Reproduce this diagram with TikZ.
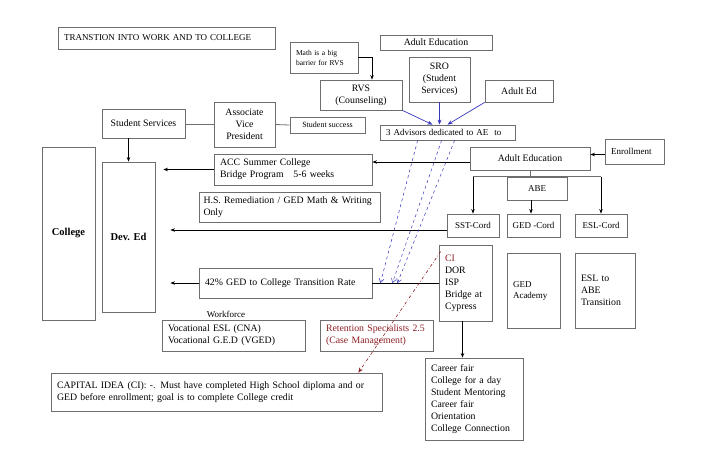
\documentclass[tikz,border=0pt]{standalone}
\usepackage{fontspec}
\setmainfont{Liberation Serif}
\usetikzlibrary{arrows.meta, calc, positioning}
\definecolor{retred}{RGB}{140,30,35}
\definecolor{advblue}{RGB}{55,55,190}
\definecolor{boxgray}{RGB}{110,110,110}

\begin{document}
\begin{tikzpicture}[x=1pt, y=-1pt,
    every node/.style={font=\fontsize{9.8}{12}\selectfont},
    box/.style={draw=boxgray, line width=0.8pt, inner xsep=2pt, inner ysep=1pt, align=center},
    lbox/.style={box, align=left, inner xsep=6pt},
    fsmall/.style={font=\fontsize{9}{11}\selectfont},
    ftiny/.style={font=\fontsize{7.5}{10}\selectfont},
    fbold/.style={font=\fontsize{10.5}{12}\selectfont\bfseries},
    line/.style={draw=boxgray, line width=0.8pt},
    arr/.style={-{Stealth[length=4.5pt, width=3.5pt]}, line width=0.7pt},
    advarr/.style={-{Stealth[length=5pt, width=4pt]}, draw=advblue, line width=0.7pt},
    advdash/.style={-{Straight Barb[length=4pt, width=5pt]}, draw=advblue, dashed, line width=0.5pt},
    retarr/.style={-{Stealth[length=5pt, width=4pt]}, draw=retred, line width=0.6pt}]
  \useasboundingbox (0,0) rectangle (720,450);

  % Heading and top boxes
  \node[lbox, fsmall, text width=205pt, minimum height=22pt] (title) at (166.5,38) {TRANSTION INTO WORK AND TO COLLEGE};
  \node[lbox, ftiny, text width=56pt, minimum height=31pt] (math) at (324,57.5) {Math is a big\\barrier for RVS};
  \node[box, minimum width=112pt, minimum height=15pt] (aetop) at (436,42.5) {Adult Education};
  \node[box, minimum width=61pt, minimum height=45pt] (sro) at (439.5,79.5) {SRO\\(Student\\Services)};
  \node[box, minimum width=68pt, minimum height=22pt] (adulted) at (519,91) {Adult Ed};
  \node[box, minimum width=82pt, minimum height=30pt] (rvs) at (361,95) {RVS\\(Counseling)};
  \node[box, minimum width=83pt, minimum height=29pt] (stuserv) at (143.5,123.5) {Student Services};
  \node[box, minimum width=61pt, minimum height=45pt] (avp) at (244.5,124.5) {Associate\\Vice\\President};
  \node[box, font=\fontsize{8}{10}\selectfont, minimum width=75pt, minimum height=16pt] (success) at (327.5,125) {Student success};
  \node[lbox, fsmall, text width=123pt, minimum height=15pt] (advisors) at (447.5,132.5) {3 Advisors dedicated to AE\ \ to};

  % College side
  \node[box, fbold, minimum width=53pt, minimum height=173pt] (college) at (68.5,233.5) {College};
  \node[box, fbold, minimum width=53pt, minimum height=150pt] (deved) at (128.5,237) {Dev. Ed};

  % Programs in the middle
  \node[lbox, text width=146pt, minimum height=31pt] (acc) at (293,169.5) {ACC Summer College\\Bridge Program\ \ \ 5-6 weeks};
  \node[lbox, inner xsep=4.5pt, text width=172pt, minimum height=30pt] (hsrem) at (289.5,207) {H.S. Remediation / GED Math \& Writing\\Only};
  \node[lbox, text width=161pt, minimum height=30pt] (rate) at (285.5,283) {42\% GED to College Transition Rate};
  \node[fsmall] (workforce) at (226,314) {Workforce};
  \node[lbox, text width=131pt, minimum height=31pt] (voc) at (233.5,335.5) {Vocational ESL (CNA)\\Vocational G.E.D (VGED)};
  \node[lbox, text=retred, text width=101pt, minimum height=31pt] (retention) at (376.5,335.5) {Retention Specialists 2.5\\(Case Management)};
  \node[lbox, text width=319pt, minimum height=38pt] (capital) at (216.5,392) {CAPITAL IDEA (CI): -. Must have completed High School diploma and or\\GED before enrollment; goal is to complete College credit};

  % Adult Education branch
  \node[box, minimum width=120pt, minimum height=23pt] (aemid) at (530,158.5) {Adult Education};
  \node[lbox, fsmall, text width=47pt, minimum height=25pt] (enroll) at (634.5,151.5) {Enrollment};
  \node[box, fsmall, minimum width=60pt, minimum height=23pt] (abe) at (537,188.5) {ABE};
  \node[box, fsmall, minimum width=52pt, minimum height=23pt] (sst) at (473,225.5) {SST-Cord};
  \node[box, fsmall, minimum width=53pt, minimum height=23pt] (gedc) at (533.5,225.5) {GED -Cord};
  \node[box, fsmall, minimum width=52pt, minimum height=23pt] (eslc) at (601,225.5) {ESL-Cord};
  \node[lbox, text width=41pt, minimum height=76pt] (ci) at (465.5,283) {\textcolor{retred}{CI}\\DOR\\ISP\\Bridge at\\Cypress};
  \node[lbox, fsmall, text width=41pt, minimum height=75pt] (gedacad) at (533.5,290.5) {GED\\Academy};
  \node[lbox, text width=48pt, minimum height=75pt] (esltr) at (605,290.5) {ESL to\\ABE\\Transition};
  \node[lbox, text width=86pt, minimum height=82pt] (career) at (474,399) {Career fair\\College for a day\\Student Mentoring\\Career fair\\Orientation\\College Connection};

  % Links at the top
  \draw[arr] (math.east) -| ($(rvs.north)+(11,0)$);
  \draw[line] (avp.west -| stuserv.east) -- (avp.west);
  \draw[line] (avp.east) -- (success.west);
  \draw[arr] (deved.north |- stuserv.south) -- (deved.north);
  \draw[advarr] (rvs.south east) -- ($(advisors.north)+(-15,0)$);
  \draw[advarr] (sro.south) -- (sro.south |- advisors.north);
  \draw[advarr] (adulted.south west) -- (advisors.north);

  % Adult Education tree
  \draw[arr] ($(enroll.west)+(0,3)$) coordinate (e1) -- (e1 -| aemid.east);
  \draw[line] (aemid.south) -- (aemid.south |- abe.north);
  \draw[line] (abe.north -| sst.north) -- (abe.north -| eslc.north);
  \draw[arr] (abe.north -| sst.north) -- (sst.north);
  \draw[arr] (abe.north -| eslc.north) -- (eslc.north);
  \draw[arr] ($(abe.south)+(-6,0)$) coordinate (b1) -- (b1 |- gedc.north);

  % Arrows towards Dev. Ed
  \draw[arr] ($(aemid.west)+(0,3.5)$) coordinate (a1) -- (a1 -| acc.east);
  \draw[arr] (acc.west) -- ($(acc.west -| deved.east)+(8,0)$);
  \draw[arr] ($(sst.west)+(0,4.5)$) coordinate (s1) -- ($(s1 -| deved.east)+(15,0)$);
  \draw[line, draw=black] (ci.west) -- (rate.east);
  \draw[arr] (rate.west) -- ($(rate.west -| deved.east)+(15,0)$);
  \draw[arr] ($(ci.south)+(-3,0)$) coordinate (c1) -- (c1 |- career.north);

  % Advisors and retention links
  \draw[advdash] ($(advisors.south west)+(38,0)$) -- ($(rate.east)+(8,0)$);
  \draw[advdash] ($(advisors.south west)+(62,0)$) -- ($(rate.east)+(20,0)$);
  \draw[advdash] ($(advisors.south west)+(75,0)$) -- ($(rate.east)+(25,0)$);
  \draw[retarr, dash dot] ($(ci.north west)+(2,7)$) -- ($(capital.north east)+(-24,0)$);
\end{tikzpicture}
\end{document}
